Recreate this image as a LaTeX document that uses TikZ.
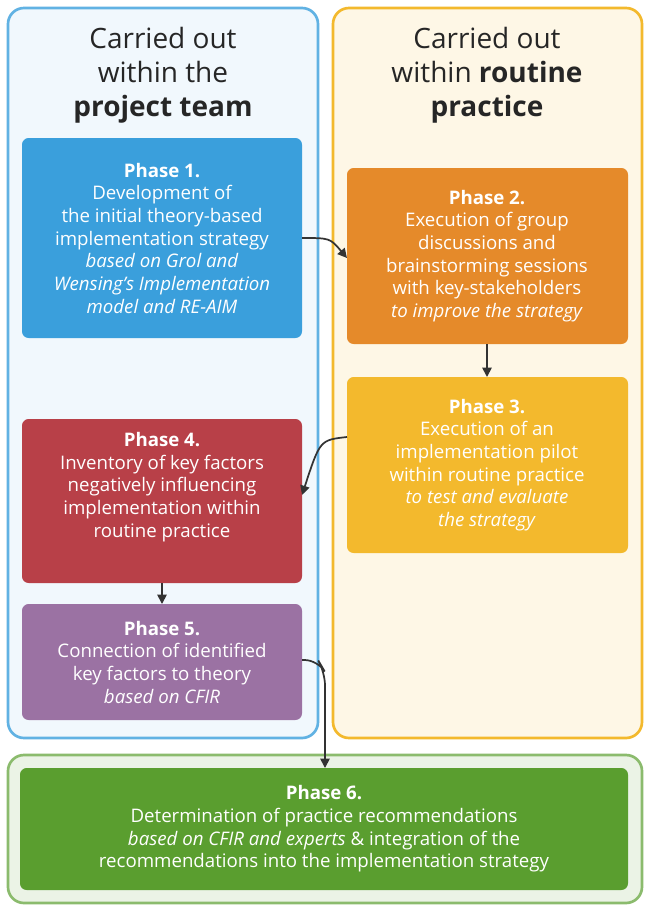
\documentclass[tikz,border=0pt]{standalone}
\usepackage{fontspec}
\setmainfont{Open Sans}
\usetikzlibrary{arrows.meta}
\definecolor{pblue}{HTML}{3A9FDC}
\definecolor{porange}{HTML}{E58A2A}
\definecolor{pyellow}{HTML}{F3B92D}
\definecolor{pred}{HTML}{B84048}
\definecolor{ppurple}{HTML}{9B72A3}
\definecolor{pgreen}{HTML}{5A9E2F}
\begin{document}
\begin{tikzpicture}[x=0.75pt,y=-0.75pt,
  panel/.style={draw, line width=2pt, rounded corners=12pt},
  phase/.style={rounded corners=5pt, text=white, align=center, font=\fontsize{14}{17}\selectfont, inner sep=0pt},
  head/.style={align=center, text=black!85, font=\fontsize{21}{25.5}\selectfont},
  arr/.style={-{Triangle[length=7pt,width=7pt]}, line width=1.3pt, draw=black!80, rounded corners=10pt}]
\useasboundingbox (0,0) rectangle (650,911);
\fill[white] (0,0) rectangle (650,911);
\draw[panel, draw=pblue!80, fill=pblue!7] (8,8) rectangle (318,738);
\draw[panel, draw=pyellow, fill=pyellow!12] (333,8) rectangle (642,738);
\draw[panel, draw=pgreen!70, fill=pgreen!12] (8,755) rectangle (642,903);
\node[head] (h1) at (163,75) {Carried out\\within the\\\textbf{project team}};
\node[head] (h2) at (487,75) {Carried out\\within \textbf{routine}\\\textbf{practice}};
\fill[pblue, rounded corners=5pt] (22,138) rectangle (302,338);
\node[phase] (p1) at (162,238) {\textbf{Phase 1.}\\Development of\\the initial theory-based\\implementation strategy\\\textit{based on Grol and}\\\textit{Wensing's Implementation}\\\textit{model and RE-AIM}};
\fill[porange, rounded corners=5pt] (347,168) rectangle (628,344);
\node[phase] (p2) at (487,256) {\textbf{Phase 2.}\\Execution of group\\discussions and\\brainstorming sessions\\with key-stakeholders\\\textit{to improve the strategy}};
\fill[pyellow, rounded corners=5pt] (347,377) rectangle (628,553);
\node[phase] (p3) at (487,465) {\textbf{Phase 3.}\\Execution of an\\implementation pilot\\within routine practice\\\textit{to test and evaluate}\\\textit{the strategy}};
\fill[pred, rounded corners=5pt] (22,419) rectangle (302,583);
\node[phase] (p4) at (162,487) {\textbf{Phase 4.}\\Inventory of key factors\\negatively influencing\\implementation within\\routine practice};
\fill[ppurple, rounded corners=5pt] (22,604) rectangle (302,720);
\node[phase] (p5) at (162,662) {\textbf{Phase 5.}\\Connection of identified\\key factors to theory\\\textit{based on CFIR}};
\fill[pgreen, rounded corners=5pt] (20,768) rectangle (628,890);
\node[phase] (p6) at (324,829) {\textbf{Phase 6.}\\Determination of practice recommendations\\\textit{based on CFIR and experts} \& integration of the\\recommendations into the implementation strategy};
\coordinate (a1) at (302,238); \coordinate (b1) at (347,258);
\draw[arr] (a1) .. controls (330,238) .. (b1);
\draw[arr] (487,344) -- (487,377);
\coordinate (a3) at (347,437); \coordinate (b3) at (302,495);
\draw[arr] (a3) .. controls (320,440) .. (b3);
\draw[arr] (162,583) -- (162,604);
\coordinate (a5) at (302,660); \coordinate (b5) at (325,768);
\draw[arr] (a5) -- (318,660) -- (325,672) -- (b5);
\end{tikzpicture}
\end{document}
